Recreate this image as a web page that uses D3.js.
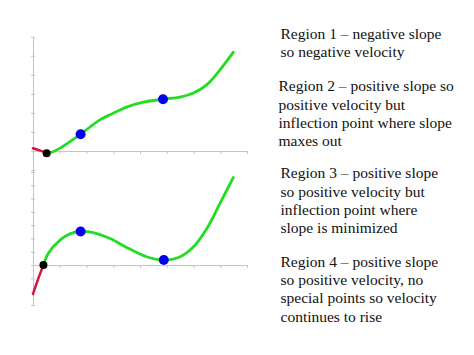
<!DOCTYPE html>
<html><head><meta charset="utf-8">
<script src="https://cdn.jsdelivr.net/npm/d3@7"></script>
<style>
html,body{margin:0;padding:0;background:#fff;}
svg{display:block;}
.txt{font-family:"Liberation Serif","Times New Roman",Times,serif;font-size:15.5px;fill:#111;}
</style></head>
<body>
<svg id="c" width="474" height="355"></svg>
<script>
// x ticks (time units)
const xTicks = [0,1,2,3,4,5,6,7,8];
// top chart: position
const topYTicks = [-1,0,1,2,3,4,5,6];
const topRedX = [0, 0.25, 0.51];
const topRedY = [0.14, 0.03, -0.12];
const topGreenX = [0.51, 0.76, 1.26, 1.78, 2.5, 3.0, 3.5, 4.12, 4.86, 5.5, 6.0, 6.49, 6.99, 7.49];
const topGreenY = [-0.12, -0.04, 0.37, 0.88, 1.63, 1.98, 2.3, 2.56, 2.72, 2.83, 3.04, 3.47, 4.26, 5.19];
const topBlackX = [0.51], topBlackY = [-0.12];
const topBlueX = [1.78, 4.86], topBlueY = [0.88, 2.72];
// bottom chart: velocity
const botYTicks = [-3,-2,-1,0,1,2,3,4,5,6,7];
const botRedX = [0, 0.2, 0.39];
const botRedY = [-2.18, -1.0, 0];
const botGreenX = [0.39, 0.57, 1.01, 1.38, 1.78, 2.25, 2.88, 3.5, 4.25, 4.89, 5.5, 6.0, 6.5, 6.99, 7.49];
const botGreenY = [0, 0.88, 1.88, 2.35, 2.53, 2.45, 2.0, 1.33, 0.63, 0.38, 0.63, 1.38, 2.76, 4.64, 6.59];
const botBlackX = [0.39], botBlackY = [0];
const botBlueX = [1.78, 4.89], botBlueY = [2.53, 0.38];
// text
const blocks = [
  ["Region 1 \u2013 negative slope","so negative velocity"],
  ["Region 2 \u2013 positive slope so","positive velocity but","inflection point where slope","maxes out"],
  ["Region 3 \u2013 positive slope","so positive velocity but","inflection point where","slope is minimized"],
  ["Region 4 \u2013 positive slope","so positive velocity, no","special points so velocity","continues to rise"]
];

const svg = d3.select("#c");
const x = d3.scaleLinear().domain([0,8]).range([33,247]);
const yTop = d3.scaleLinear().domain([-1,6]).range([170,36.7]);
const yBot = d3.scaleLinear().domain([-3,8]).range([305,158.7]);

function drawChart(y, yTicks, rx, ry, gx, gy, kx, ky, bx, by){
  const g = svg.append("g");
  const xa = g.append("g").attr("transform",`translate(0,${y(0)})`)
    .call(d3.axisBottom(x).tickValues(xTicks).tickSizeInner(3).tickSizeOuter(0).tickFormat(""));
  const ya = g.append("g").attr("transform",`translate(${x(0)},0)`)
    .call(d3.axisLeft(y).tickValues(yTicks).tickSizeInner(2).tickSizeOuter(0).tickFormat(""));
  [xa,ya].forEach(a=>{
    a.select(".domain").attr("stroke","#c4c4c4").attr("stroke-width",1);
    a.selectAll(".tick line").attr("stroke","#c4c4c4");
  });
  ya.selectAll(".tick line").attr("x1",-2).attr("x2",2);
  const line = d3.line().x(d=>x(d[0])).y(d=>y(d[1])).curve(d3.curveCatmullRom.alpha(0.5));
  g.append("path").datum(d3.zip(rx,ry)).attr("d",line)
    .attr("fill","none").attr("stroke","#d4143c").attr("stroke-width",2.5).attr("stroke-linecap","round");
  g.append("path").datum(d3.zip(gx,gy)).attr("d",line)
    .attr("fill","none").attr("stroke","#22dd22").attr("stroke-width",2.8).attr("stroke-linecap","round");
  g.selectAll("circle.k").data(d3.zip(kx,ky)).join("circle").attr("class","k")
    .attr("cx",d=>x(d[0])).attr("cy",d=>y(d[1])).attr("r",4).attr("fill","#000");
  g.selectAll("circle.b").data(d3.zip(bx,by)).join("circle").attr("class","b")
    .attr("cx",d=>x(d[0])).attr("cy",d=>y(d[1])).attr("r",5).attr("fill","#0000ee");
}
drawChart(yTop, topYTicks, topRedX, topRedY, topGreenX, topGreenY, topBlackX, topBlackY, topBlueX, topBlueY);
drawChart(yBot, botYTicks, botRedX, botRedY, botGreenX, botGreenY, botBlackX, botBlackY, botBlueX, botBlueY);

const blockPos = [[280.5,38.7],[278.5,91.3],[280.5,178.3],[280.5,266.7]];
const lh = 18.3;
blocks.forEach((lines,i)=>{
  const t = svg.append("text").attr("class","txt");
  lines.forEach((s,j)=>{
    t.append("tspan").attr("x",blockPos[i][0]).attr("y",blockPos[i][1]+j*lh).text(s);
  });
});
</script>
</body></html>
